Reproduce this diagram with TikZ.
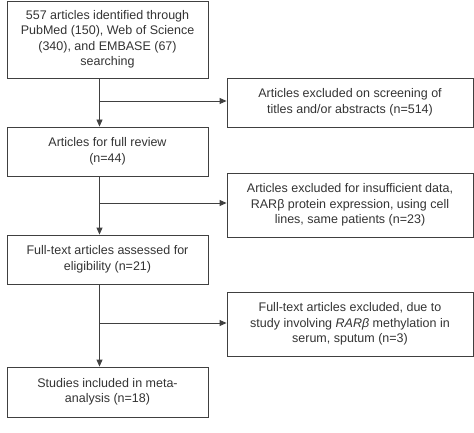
\documentclass[tikz,border=0pt]{standalone}
\usepackage{fontspec}
\setmainfont{Liberation Sans}
\usetikzlibrary{arrows.meta,positioning}
\tikzset{
    flowbox/.style={draw=black!75, line width=0.9pt, align=center, inner sep=2pt,
        font=\fontsize{12.5}{15.5}\selectfont, text=black!80},
    leftbox/.style={flowbox, minimum width=201pt},
    rightbox/.style={flowbox, minimum width=246pt},
    arr/.style={draw=black!75, line width=0.9pt, -{Triangle[length=7pt,width=6pt]}}
}
\begin{document}
\begin{tikzpicture}[x=1pt,y=1pt]
    \useasboundingbox (0,0) rectangle (474,-433);
    % left column
    \node[leftbox, minimum height=77pt] (src) at (107.5,-39.5)
        {557 articles identified through\\PubMed (150), Web of Science\\(340), and EMBASE (67)\\searching};
    \node[leftbox, minimum height=49pt] (full) at (107.5,-151.5)
        {Articles for full review\\(n=44)};
    \node[leftbox, minimum height=49pt] (elig) at (107.5,-259.5)
        {Full-text articles assessed for\\eligibility (n=21)};
    \node[leftbox, minimum height=50pt] (incl) at (107.5,-392)
        {Studies included in meta-\\analysis (n=18)};
    % right column
    \node[rightbox, minimum height=49pt] (exc1) at (350,-102.5)
        {Articles excluded on screening of\\titles and/or abstracts (n=514)};
    \node[rightbox, minimum height=64pt] (exc2) at (350,-205)
        {Articles excluded for insufficient data,\\RARβ protein expression, using cell\\lines, same patients (n=23)};
    \node[rightbox, minimum height=64pt] (exc3) at (350,-324)
        {Full-text articles excluded, due to\\study involving \textit{RARβ} methylation in\\serum, sputum (n=3)};
    % spine and branch points
    \coordinate (spine) at (99.5,0);
    \coordinate (b1) at (99.5,-101);
    \coordinate (b2) at (99.5,-203);
    \coordinate (b3) at (99.5,-323);
    \draw[arr] (src.south -| spine) -- (full.north -| spine);
    \draw[arr] (full.south -| spine) -- (elig.north -| spine);
    \draw[arr] (elig.south -| spine) -- (incl.north -| spine);
    \draw[arr] (b1) -- (b1 -| exc1.west);
    \draw[arr] (b2) -- (b2 -| exc2.west);
    \draw[arr] (b3) -- (b3 -| exc3.west);
\end{tikzpicture}
\end{document}
